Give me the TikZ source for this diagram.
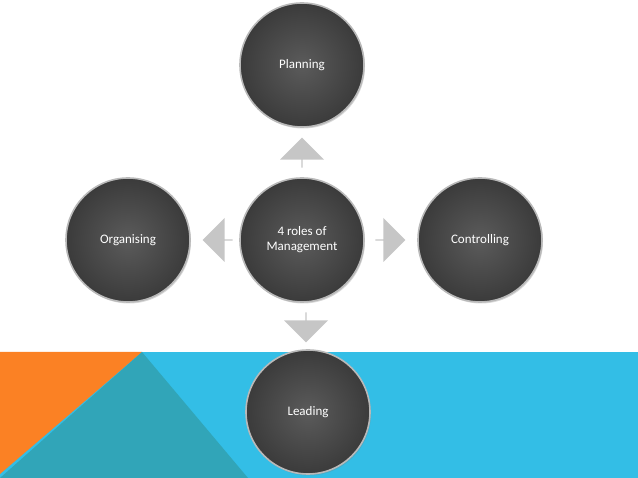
\documentclass[tikz,border=0pt]{standalone}
\usepackage{fontspec}
\setmainfont{Carlito}
\usetikzlibrary{shapes.arrows,shadows}
\definecolor{cyanb}{HTML}{33BEE6}
\definecolor{tealb}{HTML}{31A5B8}
\definecolor{orangeb}{HTML}{FB8124}
\definecolor{ball}{HTML}{3E3E3E}
\tikzset{
 role/.style={circle,minimum size=124pt,inner sep=0pt,draw=gray!55,line width=1.6pt,
   inner color=ball!85!white,outer color=ball!95!black,text=white,font=\fontsize{13}{15}\selectfont,align=center,
   drop shadow={shadow xshift=1pt,shadow yshift=-1.5pt,opacity=.3}},
 blk/.style={single arrow,draw=none,fill=gray!45,minimum height=30pt,minimum width=44pt,
   single arrow head extend=7pt,inner sep=0pt,shape border rotate=#1}
}
\begin{document}
\begin{tikzpicture}[x=1pt,y=-1pt]
\useasboundingbox (0,0) rectangle (638,478);
\fill[cyanb] (0,352) rectangle (638,478);
\fill[orangeb] (0,352) -- (142,352) -- (0,474) -- cycle;
\fill[tealb] (142,352) -- (248,478) -- (0,478) -- cycle;
\node[role] (c) at (302,240) {4 roles of\\Management};
\node[role] (p) at (302,65) {Planning};
\node[role] (o) at (128,240) {Organising};
\node[role] (r) at (480,240) {Controlling};
\node[role] (l) at (308,412) {Leading};
\node[blk=90] (au) at (302,153) {};
\node[blk=180] (al) at (218,240) {};
\node[blk=0] (ar) at (390,240) {};
\node[blk=270] (ad) at (306,327) {};
\end{tikzpicture}
\end{document}
